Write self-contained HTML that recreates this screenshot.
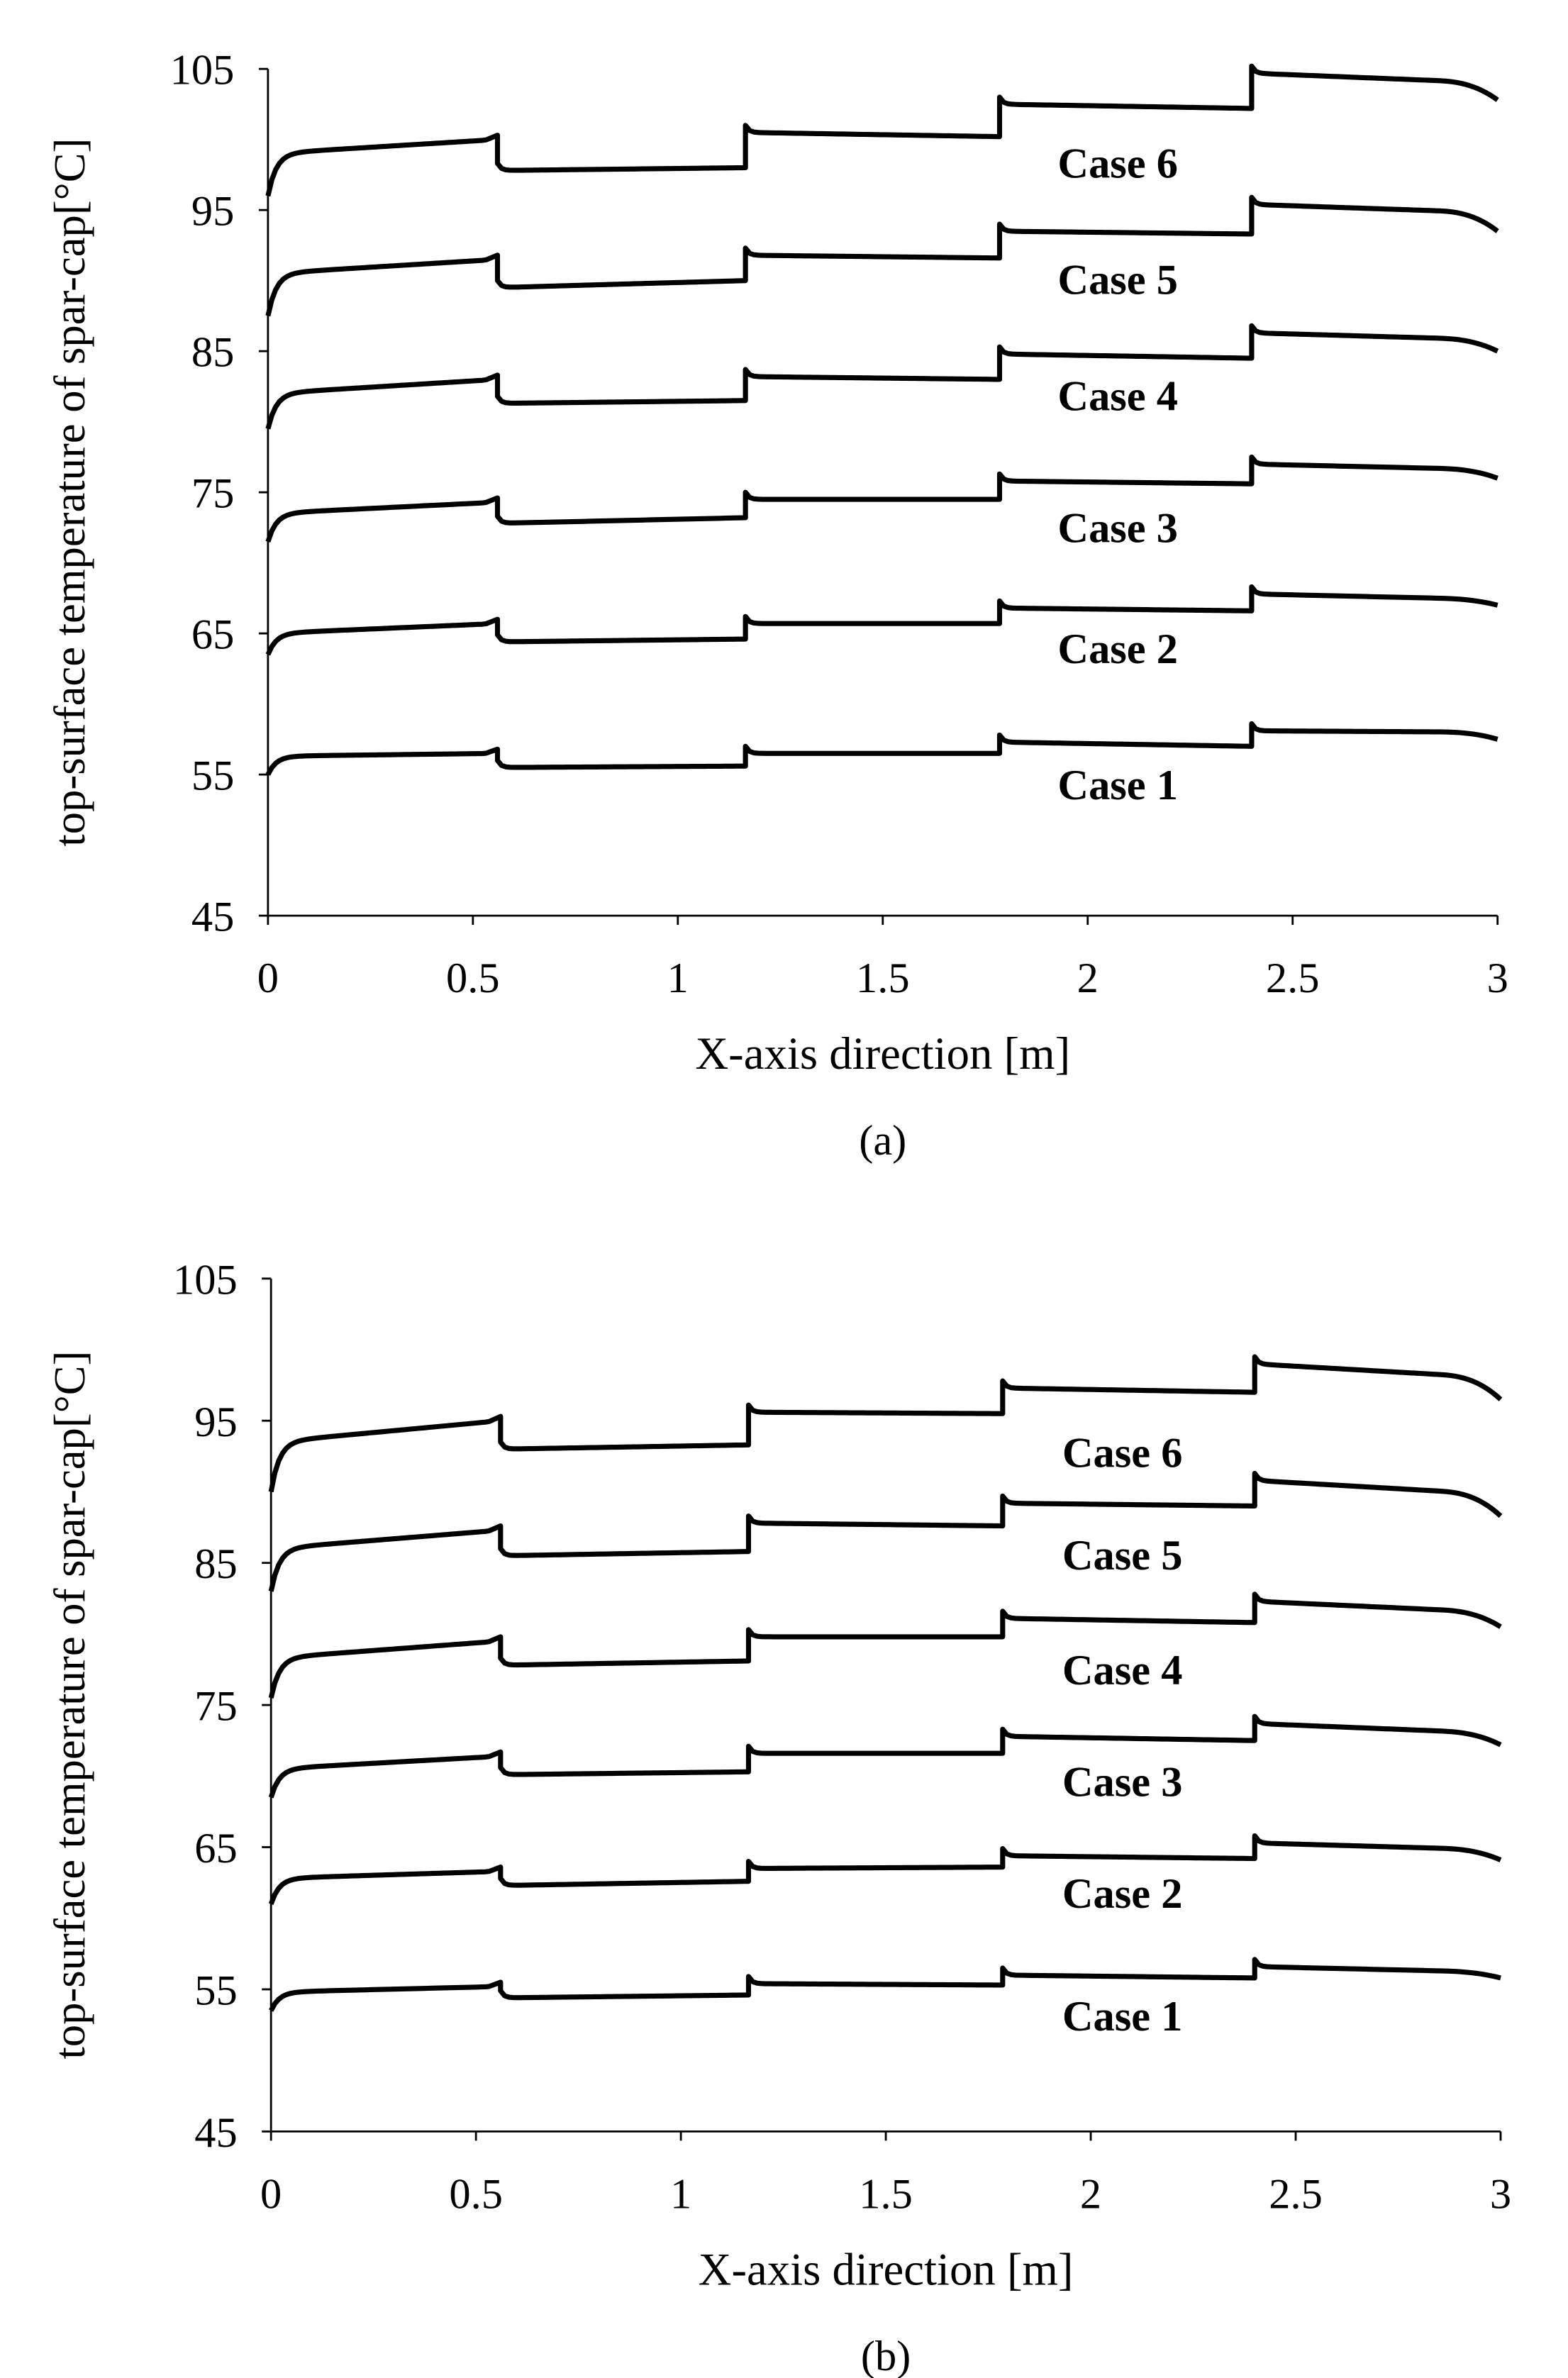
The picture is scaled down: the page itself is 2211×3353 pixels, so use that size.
<!DOCTYPE html>
<html><head><meta charset="utf-8"><style>
html,body{margin:0;padding:0;background:#fff;}
svg{display:block;}
text{font-family:"Liberation Serif",serif;fill:#000;}
</style></head><body>
<svg id="s" width="2211" height="3353" viewBox="0 0 1024 1553" preserveAspectRatio="none" xmlns="http://www.w3.org/2000/svg">
<rect width="1024" height="1553" fill="#fff"/>
<g id="g"></g>
</svg>
<script>
const NS="http://www.w3.org/2000/svg";
const g=document.getElementById('g');
function el(t,a,txt){const e=document.createElementNS(NS,t);for(const k in a)e.setAttribute(k,a[k]);if(txt!==undefined)e.textContent=txt;g.appendChild(e);return e;}
function plot(P){
 const X=x=>P.x0+(P.x3-P.x0)*x/3, Y=v=>P.y105+(P.y45-P.y105)*(105-v)/60;
 el('line',{x1:X(0),y1:P.y105,x2:X(0),y2:P.y45,stroke:'#000','stroke-width':1.3});
 el('line',{x1:X(0),y1:P.y45,x2:X(3),y2:P.y45,stroke:'#000','stroke-width':1.3});
 for(let i=0;i<=6;i++){const v=45+10*i,y=Y(v);
  el('line',{x1:X(0)-6,y1:y,x2:X(0),y2:y,stroke:'#000','stroke-width':1.3});
  el('text',{x:X(0)-22,y:y+10,'text-anchor':'end','font-size':28},String(v));}
 const xl=['0','0.5','1','1.5','2','2.5','3'];
 for(let i=0;i<=6;i++){const x=X(i*0.5);
  el('line',{x1:x,y1:P.y45,x2:x,y2:P.y45+6,stroke:'#000','stroke-width':1.3});
  el('text',{x:x,y:P.y45+50,'text-anchor':'middle','font-size':28},xl[i]);}
 el('text',{x:(X(0)+X(3))/2,y:P.y45+100,'text-anchor':'middle','font-size':30},'X-axis direction [m]');
 el('text',{x:(X(0)+X(3))/2,y:P.y45+156,'text-anchor':'middle','font-size':28},P.tag);
 const cy=(P.y105+P.y45)/2;
 el('text',{x:0,y:0,'text-anchor':'middle','font-size':29,transform:`translate(55,${cy}) rotate(-90)`},'top-surface temperature of spar-cap[°C]');
 const br=[0,0.56,1.165,1.785,2.40,3.0];
 P.cases.forEach((c,ci)=>{
  const [s,segs,end]=c;const pts=[];
  for(let k=0;k<5;k++){
   const a=br[k],b=br[k+1],[p0,p1]=segs[k];
   const n=60;
   for(let j=0;j<=n;j++){
    const x=a+(b-a)*j/n;let v=p0+(p1-p0)*(x-a)/(b-a);
    if(k==0) v+= (s-p0)*Math.exp(-x/0.02);
    else v+= 0.5*Math.exp(-(x-a)/0.008);
    if(k==4){const t=(x-2.85)/0.15; if(t>0) v+=(end-p1)*Math.pow(t,2.5);}
    if(k==0 && x>0.53) v+=0.3*(x-0.53)/0.03;
    pts.push([X(x),Y(v)]);
   }
  }
  const d='M'+pts.map(p=>p[0].toFixed(2)+','+p[1].toFixed(2)).join('L');
  el('path',{d:d,fill:'none',stroke:'#000','stroke-width':3.3,'stroke-linejoin':'round'});
  el('text',{x:P.lx,y:P.ly[ci]+10,'text-anchor':'middle','font-size':28,'font-weight':'bold'},'Case '+(ci+1));
 });
}
plot({x0:175,x3:978,y105:45,y45:598,tag:'(a)',lx:730,ly:[512,423,344,258,182,106],
 cases:[
 [55,[[56.3,56.5],[55.5,55.6],[56.5,56.5],[57.3,57],[58.1,58]],57.5],
 [63.5,[[65,65.7],[64.4,64.6],[65.7,65.7],[66.8,66.6],[67.8,67.4]],67],
 [71.5,[[73.5,74.3],[72.8,73.2],[74.5,74.5],[75.8,75.6],[77,76.6]],76],
 [79.5,[[82,83],[81.3,81.5],[83.2,83],[84.8,84.5],[86.3,85.8]],85],
 [87.5,[[90.5,91.5],[89.5,90],[91.8,91.6],[93.5,93.3],[95.4,94.8]],93.5],
 [96,[[99,100],[97.8,98],[100.5,100.2],[102.5,102.2],[104.7,104]],102.8]]});
plot({x0:177,x3:980,y105:835,y45:1392,tag:'(b)',lx:733,ly:[1316,1236,1163,1090,1015,948],
 cases:[
 [53.5,[[54.8,55.2],[54.4,54.6],[55.4,55.3],[56,55.8],[56.6,56.2]],55.8],
 [61,[[62.8,63.3],[62.3,62.6],[63.5,63.6],[64.4,64.2],[65.3,64.8]],64.1],
 [68.5,[[70.5,71.4],[70.1,70.3],[71.6,71.6],[72.8,72.5],[73.7,73]],72.2],
 [75.5,[[78.3,79.5],[77.8,78.1],[79.8,79.8],[81.1,80.8],[82.3,81.5]],80.5],
 [83,[[86,87.3],[85.5,85.8],[87.8,87.6],[89.2,89],[90.8,89.8]],88.3],
 [90,[[93.5,95],[93,93.3],[95.6,95.5],[97.3,97],[99,98]],96.5]]});
</script>
</body></html>
